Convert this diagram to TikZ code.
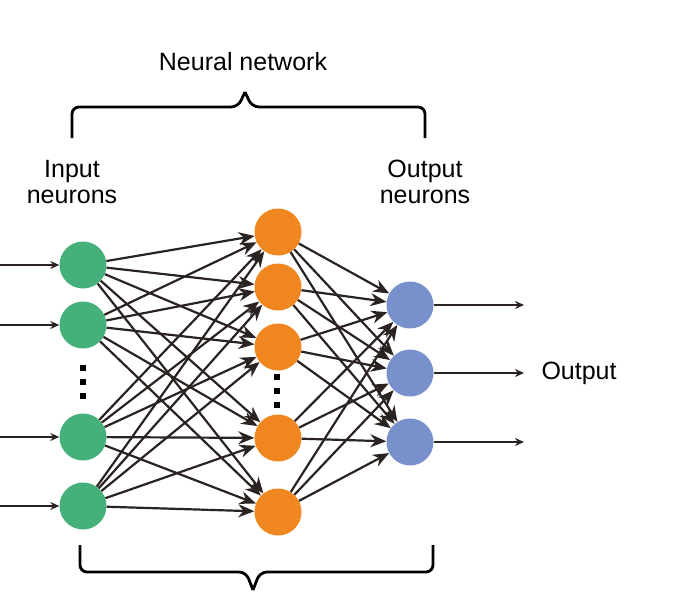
\documentclass[tikz,border=0pt]{standalone}
\usepackage{fontspec}
\setmainfont{Liberation Sans}
\usetikzlibrary{arrows.meta}
\definecolor{grn}{HTML}{45B07A}
\definecolor{org}{HTML}{F0861F}
\definecolor{blu}{HTML}{7890CC}
\definecolor{edge}{HTML}{2A2322}
\begin{document}
\begin{tikzpicture}[x=1pt,y=-1pt,
  neuron/.style={circle,minimum size=47pt,inner sep=0pt,draw=none},
  conn/.style={edge,line width=2.2pt,-{Stealth[length=16pt,width=13pt]}},
  plain/.style={edge,line width=2.4pt,-{Stealth[length=9pt,width=8pt]}},
  brace/.style={black,line width=2.8pt,rounded corners=7pt},
  lbl/.style={font=\fontsize{25}{29}\selectfont,align=center},
  dot/.style={fill=black,minimum size=6pt,inner sep=0pt,rectangle}]
\useasboundingbox (0,0) rectangle (680,602);
\foreach \n/\y in {1/265,2/325,3/437,4/506}
  \node[neuron,fill=grn] (i\n) at (83,\y) {};
\foreach \n/\y in {1/232,2/287,3/347,4/438,5/512}
  \node[neuron,fill=org] (h\n) at (278,\y) {};
\foreach \n/\y in {1/305,2/373,3/442}
  \node[neuron,fill=blu] (o\n) at (410,\y) {};
\foreach \i in {1,...,4}
  \foreach \h in {1,...,5}
    \draw[conn] (i\i) -- (h\h);
\foreach \h in {1,...,5}
  \foreach \o in {1,...,3}
    \draw[conn] (h\h) -- (o\o);
\foreach \n/\y in {1/265,2/325,3/437,4/506}
  {\coordinate (s\n) at (0,\y); \draw[plain] (s\n) -- (i\n);}
\foreach \n/\y in {1/305,2/373,3/442}
  {\coordinate (e\n) at (524,\y); \draw[plain] (o\n) -- (e\n);}
\node[lbl,anchor=west] (out) at (538,373) {Output};
\foreach \n/\y in {1/368,2/382,3/396}
  \node[dot] (da\n) at (83,\y) {};
\foreach \n/\y in {1/377,2/391,3/405}
  \node[dot] (db\n) at (277,\y) {};
\node[lbl] (nn) at (243,62) {Neural network};
\node[lbl] (in) at (72,182) {Input\\[-3pt]neurons};
\node[lbl] (on) at (425,182) {Output\\[-3pt]neurons};
\draw[brace] (72,138) -- (72,107) -- (238,107) -- (245,92);
\draw[brace] (245,92) -- (252,107) -- (425,107) -- (425,138);
\draw[brace] (80,545) -- (80,572) -- (246,572) -- (253,590);
\draw[brace] (253,590) -- (260,572) -- (433,572) -- (433,545);
\end{tikzpicture}
\end{document}
